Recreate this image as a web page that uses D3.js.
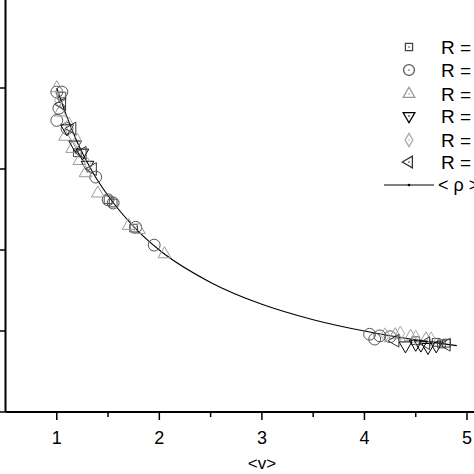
<!DOCTYPE html>
<html><head><meta charset="utf-8">
<script src="https://cdn.jsdelivr.net/npm/d3@7"></script>
<style>body{margin:0;background:#fff}svg{display:block}</style>
</head><body><svg id="c" width="474" height="474"></svg>
<script>
const xTicks=[1,2,3,4,5];
const yTicks=[0,1,2,3,4];
const legendLabels=["R = .","R = .","R = .","R = .","R = .","R = .","< ρ >"];
const curveX=[1.0,1.1,1.2,1.35,1.5,1.75,2.0,2.5,3.0,3.5,4.0,4.5,4.9];
const curveY=[4.0,3.64,3.33,2.96,2.67,2.29,2.0,1.6,1.33,1.14,1.0,0.89,0.82];
const sqX=[1.05,1.2,1.5,1.55,1.75,4.5,4.7,4.75,4.8];
const sqY=[3.9,3.2,2.62,2.58,2.27,0.88,0.86,0.84,0.85];
const ciX=[1.0,1.02,1.05,1.0,1.1,1.38,1.5,1.55,1.77,1.95,4.05,4.15,4.25,4.1];
const ciY=[3.95,3.75,3.95,3.6,3.5,2.9,2.62,2.58,2.28,2.06,0.96,0.94,0.93,0.9];
const trX=[1.0,1.03,1.08,1.15,1.22,1.28,1.4,1.7,1.8,2.05,4.3,4.45,4.6];
const trY=[4.0,3.7,3.4,3.25,3.1,2.95,2.7,2.3,2.25,1.95,0.95,0.93,0.9];
const dtX=[1.1,1.18,1.25,1.3,4.4,4.5,4.55,4.62,4.7];
const dtY=[3.5,3.3,3.2,3.05,0.82,0.84,0.83,0.8,0.82];
const diX=[1.02,1.12,1.2,1.3,4.2,4.35,4.5,4.65];
const diY=[3.85,3.55,3.35,3.05,0.95,0.97,0.92,0.9];
const ltX=[1.05,1.15,1.25,1.35,4.3,4.6,4.8];
const ltY=[3.8,3.5,3.2,3.0,0.88,0.85,0.83];

const svg=d3.select("#c");
const x=d3.scaleLinear().domain([0.5,5]).range([5.5,467]);
const y=d3.scaleLinear().domain([0,4]).range([412,88]);
svg.append("line").attr("x1",5.5).attr("x2",5.5).attr("y1",0).attr("y2",412).attr("stroke","#000").attr("stroke-width",2);
svg.append("line").attr("x1",5.5).attr("x2",474).attr("y1",412).attr("y2",412).attr("stroke","#000").attr("stroke-width",2);
const xa=svg.append("g").attr("transform","translate(0,412)");
x.ticks(10).filter(t=>t>=1).forEach(t=>{
  const major=xTicks.includes(t);
  xa.append("line").attr("x1",x(t)).attr("x2",x(t)).attr("y1",0).attr("y2",major?8:5).attr("stroke","#000").attr("stroke-width",1.5);
});
xTicks.forEach(t=>xa.append("text").attr("x",x(t)).attr("y",32).attr("text-anchor","middle").attr("font-family","Liberation Sans, Arial").attr("font-size",18).text(t));
yTicks.forEach(t=>svg.append("line").attr("x1",0).attr("x2",5.5).attr("y1",y(t)).attr("y2",y(t)).attr("stroke","#000").attr("stroke-width",1.5));
svg.append("text").attr("x",262).attr("y",469).attr("text-anchor","middle").attr("font-family","Liberation Sans, Arial").attr("font-size",17).text("<v>");
const pts=curveX.map((v,i)=>[x(v),y(curveY[i])]);
svg.append("path").attr("d",d3.line().curve(d3.curveMonotoneX)(pts)).attr("fill","none").attr("stroke","#000").attr("stroke-width",1.1);
const series=[
 {xs:sqX,ys:sqY,sym:d3.symbolSquare,size:60,col:"#444",rot:0},
 {xs:ciX,ys:ciY,sym:d3.symbolCircle,size:110,col:"#555",rot:0},
 {xs:trX,ys:trY,sym:d3.symbolTriangle,size:70,col:"#999",rot:0},
 {xs:dtX,ys:dtY,sym:d3.symbolTriangle,size:70,col:"#000",rot:180},
 {xs:diX,ys:diY,sym:d3.symbolDiamond,size:60,col:"#aaa",rot:0},
 {xs:ltX,ys:ltY,sym:d3.symbolTriangle,size:70,col:"#333",rot:-90}];
series.forEach(s=>{
  const p=d3.symbol().type(s.sym).size(s.size)();
  s.xs.forEach((v,i)=>svg.append("path").attr("d",p).attr("fill","none").attr("stroke",s.col).attr("stroke-width",1)
    .attr("transform",`translate(${x(v)},${y(s.ys[i])}) rotate(${s.rot})`));
});
const ly=[47,70,94,116,140,162];
series.forEach((s,i)=>{
  const p=d3.symbol().type(s.sym).size(s.size*0.85)();
  svg.append("path").attr("d",p).attr("fill","none").attr("stroke",s.col).attr("stroke-width",1.3).attr("transform",`translate(409,${ly[i]}) rotate(${s.rot})`);
  svg.append("circle").attr("cx",409).attr("cy",ly[i]).attr("r",0.8).attr("fill",s.col);
  svg.append("text").attr("x",441).attr("y",ly[i]+7).attr("font-family","Liberation Sans, Arial").attr("font-size",19).text(legendLabels[i]);
});
svg.append("line").attr("x1",384).attr("x2",434).attr("y1",185).attr("y2",185).attr("stroke","#000");
svg.append("circle").attr("cx",409).attr("cy",185).attr("r",1.3);
svg.append("text").attr("x",438).attr("y",191).attr("font-family","Liberation Sans, Arial").attr("font-size",18).text(legendLabels[6]);
</script></body></html>
